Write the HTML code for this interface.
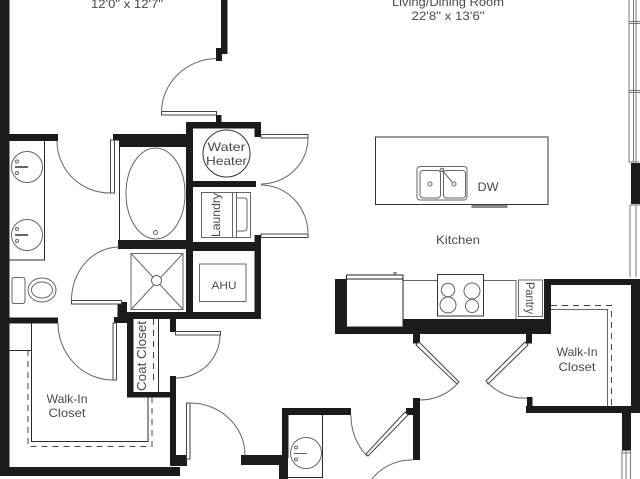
<!DOCTYPE html>
<html><head><meta charset="utf-8"><style>
html,body{margin:0;padding:0;background:#fff;width:640px;height:479px;overflow:hidden}
svg{display:block}
text{font-family:"Liberation Sans",sans-serif;font-size:12px;fill:#4a4a4a;text-anchor:middle}
.w{fill:#1c1a1b;stroke:none}
.l{fill:none;stroke:#2a2a2a;stroke-width:1}
.g{fill:none;stroke:#666;stroke-width:1}
.d{fill:none;stroke:#444;stroke-width:1;stroke-dasharray:6 5}
.leaf{fill:#fff;stroke:#444;stroke-width:1}
</style></head><body>
<svg width="640" height="479" viewBox="0 0 640 479" xmlns="http://www.w3.org/2000/svg">
<g class="w">
<rect x="0" y="0" width="9.5" height="476"/>
<rect x="221" y="0" width="6.5" height="54"/>
<rect x="216" y="48" width="6" height="13"/>
<rect x="216" y="115" width="5.5" height="8"/>
<rect x="186" y="122" width="75" height="6.5"/>
<rect x="186" y="122" width="7" height="197"/>
<rect x="254.5" y="122" width="6.5" height="15"/>
<rect x="193" y="181" width="63" height="6"/>
<rect x="9" y="134" width="49" height="7"/>
<rect x="113" y="134" width="73" height="6.5"/>
<rect x="119" y="134" width="67" height="13"/>
<rect x="118" y="240" width="69" height="9"/>
<rect x="193" y="242" width="62" height="9"/>
<rect x="254.5" y="235" width="6.5" height="84"/>
<rect x="118" y="312" width="143" height="7"/>
<rect x="117.5" y="302" width="9.5" height="16"/>
<rect x="114" y="317" width="13" height="6"/>
<rect x="9" y="317.5" width="49" height="6"/>
<rect x="127" y="318" width="6.5" height="79"/>
<rect x="127" y="392" width="49" height="5.5"/>
<rect x="170" y="319" width="6" height="13"/>
<rect x="170" y="376" width="6" height="82"/>
<rect x="170" y="455" width="17" height="11"/>
<rect x="0" y="467" width="180" height="9"/>
<rect x="241" y="455" width="41" height="10"/>
<rect x="282" y="408" width="69" height="7"/>
<rect x="282" y="408" width="6.5" height="50"/>
<rect x="279" y="455" width="9" height="24"/>
<rect x="335" y="279" width="11.5" height="55"/>
<rect x="335" y="319" width="216" height="15"/>
<rect x="346" y="327" width="58" height="7"/>
<rect x="544" y="279" width="7" height="55"/>
<rect x="544" y="279" width="96" height="6"/>
<rect x="631" y="279" width="9" height="134"/>
<rect x="631" y="163" width="9" height="41"/>
<rect x="622" y="408" width="9" height="42"/>
<rect x="526" y="406" width="105" height="7"/>
<rect x="527" y="397" width="5.5" height="12"/>
<rect x="413" y="334" width="7" height="9.5"/>
<rect x="526" y="334" width="6" height="9.5"/>
<rect x="413" y="398" width="7" height="62"/>
<rect x="406" y="408" width="8" height="7"/>
</g>
<rect class="leaf" x="161.5" y="111.5" width="55" height="3.5"/>
<rect class="leaf" x="261" y="134.5" width="47" height="3.5"/>
<rect class="leaf" x="261" y="234" width="47" height="3.5"/>
<rect class="leaf" x="110.5" y="140" width="4" height="53"/>
<rect class="leaf" x="71.5" y="300.5" width="50" height="3.5"/>
<rect class="leaf" x="113" y="323" width="3.5" height="57"/>
<rect class="leaf" x="175.5" y="331.5" width="45" height="3.5"/>
<rect class="leaf" x="186.5" y="403" width="3.5" height="56"/>
<polygon class="leaf" points="416,345 419,342 459,382 457,384"/>
<polygon class="leaf" points="528,345 525,342 486,381 488,384"/>
<polygon class="leaf" points="408,415 405,412 366,454 368,456"/>
<g class="g">
<path d="M216 58.5A56 54 0 0 0 161.5 112"/>
<path d="M308 138A47 46 0 0 1 261 184"/>
<path d="M261 185A47 49 0 0 1 308 234"/>
<path d="M57 141A53 52 0 0 0 110 193"/>
<path d="M119 247A48 53 0 0 0 71.5 300"/>
<path d="M58 323A55 57 0 0 0 113 380"/>
<path d="M220 335A44 43 0 0 1 176 378"/>
<path d="M190 403A55 52 0 0 1 245 455"/>
<path d="M458 383A50 50 0 0 1 420 400"/>
<path d="M487 382A50 50 0 0 0 527 398"/>
<path d="M351 415A58 58 0 0 0 367 456"/>
<path d="M413 460A50 50 0 0 0 372 479"/>
</g>
<g class="l">
<path d="M44.5 141V260H9"/>
<path d="M119.5 147V240"/>
</g>
<g class="g">
<circle cx="27" cy="167" r="15.5"/>
<circle cx="27" cy="235" r="15.5"/>
<circle cx="17" cy="161.5" r="1.5"/><circle cx="17" cy="173" r="1.5"/>
<circle cx="17" cy="229" r="1.5"/><circle cx="17" cy="241" r="1.5"/>
<path d="M15 167H28M15 235H28" stroke-width="2"/>
<path d="M14 277.5H22Q25 277.5 25 280V301Q25 303.5 22 303.5H14Q12 303.5 12 301V280Q12 277.5 14 277.5Z"/>
<ellipse cx="42" cy="290" rx="14" ry="12"/>
<ellipse cx="42" cy="290" rx="10.5" ry="8"/>
<ellipse cx="155.5" cy="193.5" rx="29.5" ry="45.5"/>
<circle cx="155.5" cy="232.5" r="2"/>
<rect x="131" y="253.5" width="52" height="56"/>
<path d="M131 253.5L183 309.5M183 253.5L131 309.5"/>
<circle cx="156.5" cy="280.5" r="5" fill="#fff"/>
<rect x="199.5" y="264" width="46.5" height="37.5"/>
<circle cx="226.5" cy="153.5" r="23.5" style="stroke:#333"/>
<rect x="201.5" y="192.5" width="49" height="45"/>
<path d="M232.5 192.5V237.5M236.5 192.5V237.5"/>
<path d="M236.5 198H244Q247 198 247 201V228Q247 231 244 231H236.5"/>
<rect x="375.5" y="137" width="172.5" height="67.5" style="stroke:#333"/>
<rect x="417" y="166.5" width="50" height="33.5" rx="3"/>
<rect x="420" y="170.5" width="20.5" height="27.5" rx="3"/>
<rect x="443.5" y="170.5" width="22" height="27.5" rx="3"/>
<circle cx="442" cy="170" r="1.8"/>
<path d="M442 170L452 182"/>
<circle cx="430" cy="184" r="2"/><circle cx="454" cy="184" r="2"/>
<path d="M403 280.5H516M516 280V319"/>
<rect x="518.5" y="280" width="24" height="36.5"/>
<path d="M551 309.5H607.5V406"/>
<path d="M394 275V272.5H396V275"/>
</g>
<rect x="471.5" y="205" width="36" height="3" fill="#888"/>
<rect x="346.5" y="275" width="56.5" height="52" fill="#fff" stroke="#222"/>
<rect x="346.5" y="275" width="56.5" height="4" fill="#fff" stroke="#222"/>
<rect x="437.5" y="274.5" width="46" height="41.5" fill="#fff" stroke="#333"/>
<g class="g">
<circle cx="448" cy="290" r="6.7"/><circle cx="472" cy="291" r="8"/>
<circle cx="448" cy="305" r="8"/><circle cx="472" cy="306" r="6.5"/>
</g>
<g class="l">
<path d="M31.5 323V441.5H148V397"/>
<path d="M9 350.5H31"/>
<path d="M158.5 319V392"/>
<path d="M322.5 415V477.5H288"/>
</g>
<circle cx="306" cy="453" r="15.5" class="g"/>
<circle cx="296" cy="447.5" r="1.5" class="g"/><circle cx="296" cy="459.5" r="1.5" class="g"/>
<path d="M294 453.5H307" class="g" stroke-width="2"/>
<g class="d">
<path d="M28 350V446.5H152V397"/>
<path d="M153.5 319V385"/>
<path d="M551 305.5H611.5V406"/>
</g>
<g fill="none" stroke="#777" stroke-width="1">
<path d="M629 0V162H639M633.5 0V162M636 0V162"/>
<path d="M629 21.5H640M629 23.5H640M629 90.5H640M629 92.5H640"/>
<path d="M630 205V277M636 205V277M630 205H640"/>
<path d="M622 450V479M626 450V479M630.5 450V479M622 450.5H631M622 453H631"/>
</g>
<text x="127" y="8" textLength="72" lengthAdjust="spacingAndGlyphs">12'0" x 12'7"</text>
<text x="448" y="6" textLength="112" lengthAdjust="spacingAndGlyphs">Living/Dining Room</text>
<text x="448" y="20" textLength="73" lengthAdjust="spacingAndGlyphs">22'8" x 13'6"</text>
<text x="226.5" y="151" textLength="38" lengthAdjust="spacingAndGlyphs">Water</text>
<text x="226.5" y="165" textLength="41" lengthAdjust="spacingAndGlyphs">Heater</text>
<text x="488" y="191" textLength="21" lengthAdjust="spacingAndGlyphs">DW</text>
<text x="458" y="244" textLength="44" lengthAdjust="spacingAndGlyphs">Kitchen</text>
<text x="224" y="289" style="font-size:11px" textLength="25" lengthAdjust="spacingAndGlyphs">AHU</text>
<text x="67" y="403" textLength="41" lengthAdjust="spacingAndGlyphs">Walk-In</text>
<text x="67" y="417" textLength="37" lengthAdjust="spacingAndGlyphs">Closet</text>
<text x="577" y="356" textLength="41" lengthAdjust="spacingAndGlyphs">Walk-In</text>
<text x="577" y="371" textLength="37" lengthAdjust="spacingAndGlyphs">Closet</text>
<text transform="translate(146,356) rotate(-90)" textLength="70" lengthAdjust="spacingAndGlyphs" style="font-size:13px">Coat Closet</text>
<text transform="translate(220,215) rotate(-90)" textLength="44" lengthAdjust="spacingAndGlyphs">Laundry</text>
<text transform="translate(526,298) rotate(90)" textLength="32" lengthAdjust="spacingAndGlyphs" style="font-size:11.5px">Pantry</text>
</svg>
</body></html>
